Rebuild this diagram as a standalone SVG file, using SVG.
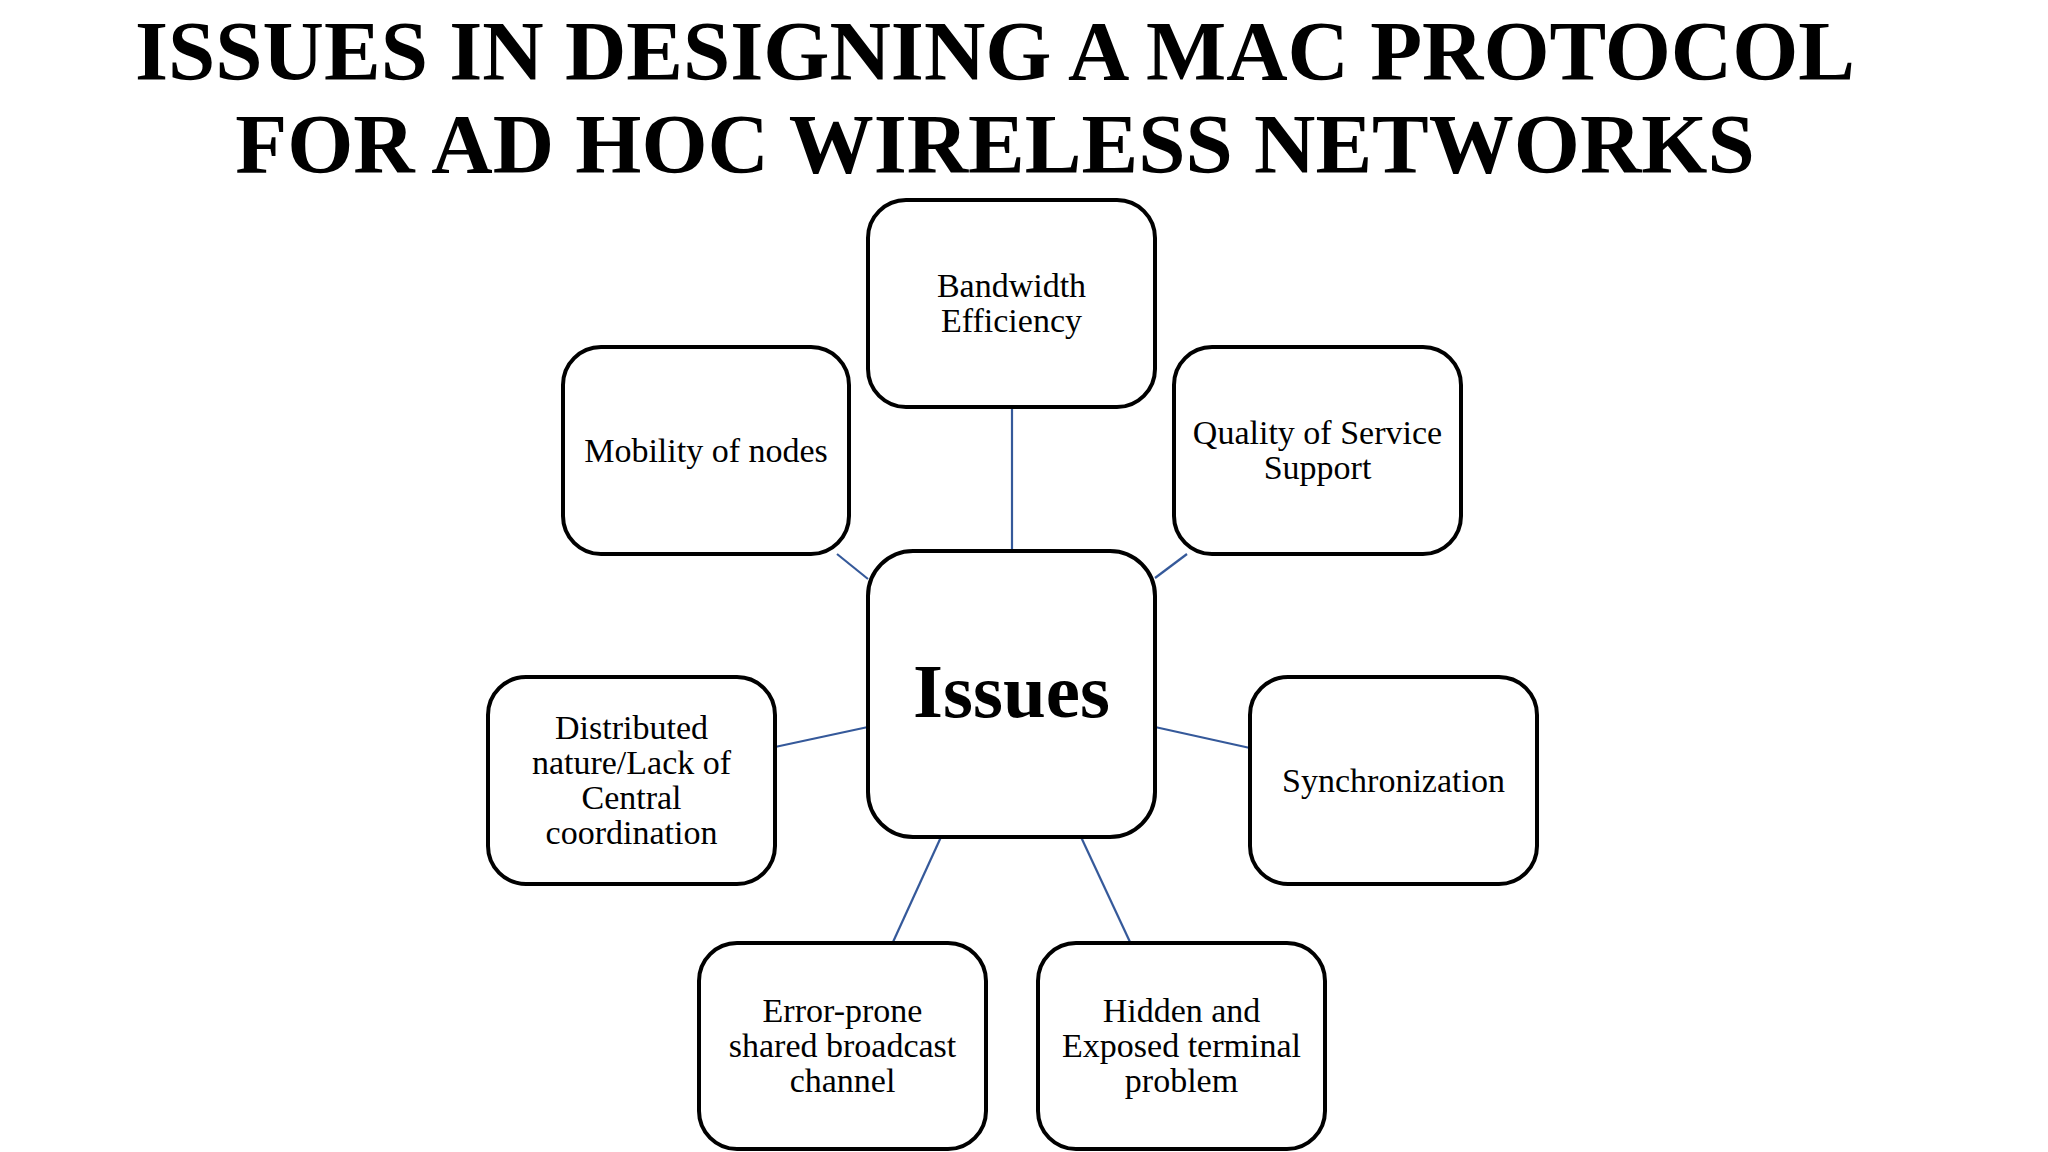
<svg xmlns="http://www.w3.org/2000/svg" width="2048" height="1152" viewBox="0 0 2048 1152">
<style>
.box{fill:#ffffff;stroke:#000000;stroke-width:4}
.lbl{font-family:"Liberation Serif","Times New Roman",serif;font-size:34px;fill:#000;text-anchor:middle}
.title{font-family:"Liberation Serif","Times New Roman",serif;font-size:85px;font-weight:bold;fill:#000;text-anchor:middle}
.hub{font-family:"Liberation Serif","Times New Roman",serif;font-size:77px;font-weight:bold;fill:#000;text-anchor:middle}
.conn line{stroke:#35599a;stroke-width:2.2}
</style>
<rect width="2048" height="1152" fill="#ffffff"/>
<g id="title">
<text class="title" x="995" y="80">ISSUES IN DESIGNING A MAC PROTOCOL</text>
<text class="title" x="995" y="173">FOR AD HOC WIRELESS NETWORKS</text>
</g>
<g id="connectors" class="conn">
<line x1="1012" y1="407" x2="1012" y2="551"/>
<line x1="837" y1="554" x2="868" y2="579"/>
<line x1="1187" y1="554" x2="1155" y2="578"/>
<line x1="775" y1="747" x2="868" y2="727"/>
<line x1="1155" y1="727" x2="1250" y2="748"/>
<line x1="941" y1="837" x2="893" y2="942"/>
<line x1="1081" y1="837" x2="1130" y2="942"/>
</g>
<g id="bandwidth">
<rect class="box" x="868" y="200" width="287" height="207" rx="38"/>
<text class="lbl" x="1011.5" y="296.5">Bandwidth</text>
<text class="lbl" x="1011.5" y="331.5">Efficiency</text>
</g>
<g id="mobility">
<rect class="box" x="563" y="347" width="286" height="207" rx="38"/>
<text class="lbl" x="706" y="461.5">Mobility of nodes</text>
</g>
<g id="qos">
<rect class="box" x="1174" y="347" width="287" height="207" rx="38"/>
<text class="lbl" x="1317.5" y="443.5">Quality of Service</text>
<text class="lbl" x="1317.5" y="478.5">Support</text>
</g>
<g id="issues">
<rect class="box" x="868" y="551" width="287" height="286" rx="45"/>
<text class="hub" x="1011.5" y="717">Issues</text>
</g>
<g id="distributed">
<rect class="box" x="488" y="677" width="287" height="207" rx="38"/>
<text class="lbl" x="631.5" y="738.5">Distributed</text>
<text class="lbl" x="631.5" y="773.5">nature/Lack of</text>
<text class="lbl" x="631.5" y="808.5">Central</text>
<text class="lbl" x="631.5" y="843.5">coordination</text>
</g>
<g id="synchronization">
<rect class="box" x="1250" y="677" width="287" height="207" rx="38"/>
<text class="lbl" x="1393.5" y="791.5">Synchronization</text>
</g>
<g id="error-prone">
<rect class="box" x="699" y="943" width="287" height="206" rx="38"/>
<text class="lbl" x="842.5" y="1021.5">Error-prone</text>
<text class="lbl" x="842.5" y="1056.5">shared broadcast</text>
<text class="lbl" x="842.5" y="1091.5">channel</text>
</g>
<g id="hidden-exposed">
<rect class="box" x="1038" y="943" width="287" height="206" rx="38"/>
<text class="lbl" x="1181.5" y="1021.5">Hidden and</text>
<text class="lbl" x="1181.5" y="1056.5">Exposed terminal</text>
<text class="lbl" x="1181.5" y="1091.5">problem</text>
</g>
</svg>
